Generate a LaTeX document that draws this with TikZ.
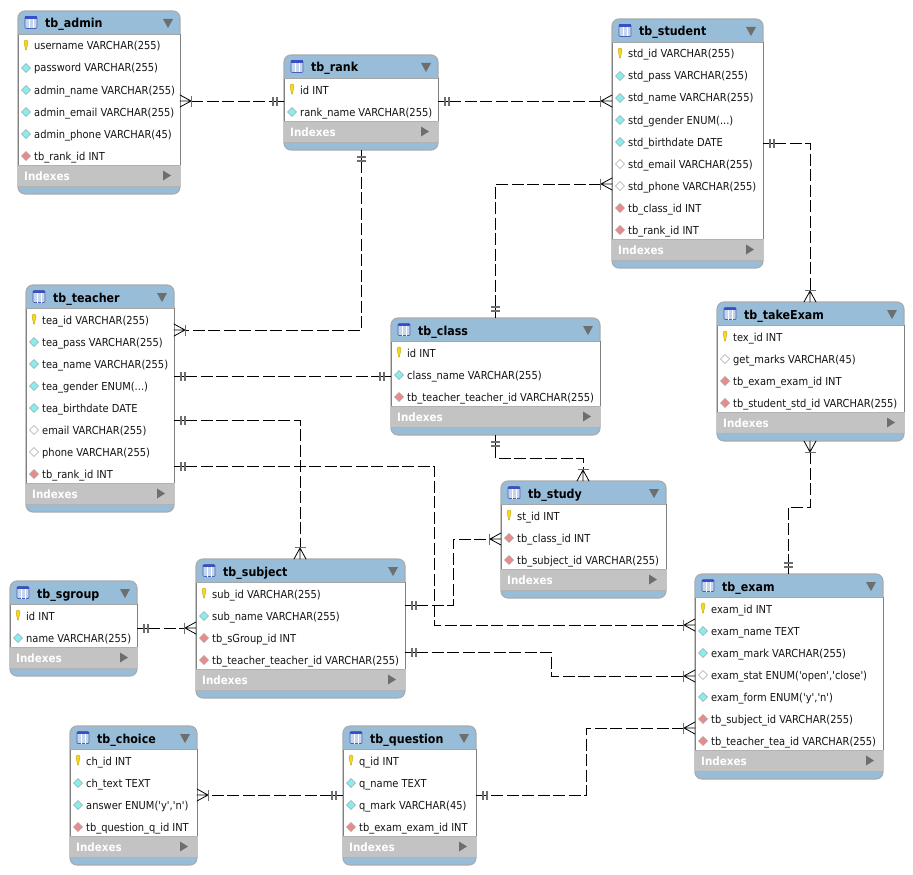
\documentclass[tikz,border=0pt]{standalone}
\usepackage{fontspec}
\usetikzlibrary{arrows.meta}
\newfontfamily\erfont{DejaVu Sans Condensed}
\definecolor{erblue}{HTML}{97BDD9}
\definecolor{erband}{HTML}{C3C3C3}
\definecolor{erframe}{HTML}{ABABAB}
\definecolor{eredge}{HTML}{808080}
\definecolor{ertri}{HTML}{6E6E6E}
\definecolor{ercyan}{HTML}{86EEF0}
\definecolor{erred}{HTML}{EC8A8A}
\definecolor{erkey}{HTML}{F8D818}
\definecolor{ericonblue}{HTML}{3A4FC4}
\definecolor{ericonfill}{HTML}{C4D5EE}
\def\erdots{...}
\pgfdeclarearrow{
  name = ERmany,
  setup code = {\pgfarrowssettipend{0pt}\pgfarrowssetlineend{-11pt}\pgfarrowssetbackend{-12.5pt}\pgfarrowssetvisualbackend{-12.5pt}},
  drawing code = {
    \pgfsetdash{}{0pt}\pgfsetlinewidth{.8pt}\pgfsetroundcap
    \pgfsetstrokecolor{black}
    \pgfpathmoveto{\pgfpoint{0pt}{6pt}}\pgfpathlineto{\pgfpoint{-11pt}{0pt}}\pgfpathlineto{\pgfpoint{0pt}{-6pt}}
    \pgfpathmoveto{\pgfpoint{-11pt}{0pt}}\pgfpathlineto{\pgfpoint{0pt}{0pt}}
    \pgfusepathqstroke
    \pgfsetbuttcap\pgfsetlinewidth{1.6pt}\pgfsetstrokecolor{ertri}
    \pgfpathmoveto{\pgfpoint{-11.5pt}{5.5pt}}\pgfpathlineto{\pgfpoint{-11.5pt}{-5.5pt}}
    \pgfusepathqstroke
  },
}
\pgfdeclarearrow{
  name = ERone,
  setup code = {\pgfarrowssettipend{0pt}\pgfarrowssetlineend{-11pt}\pgfarrowssetbackend{-12pt}\pgfarrowssetvisualbackend{-12pt}},
  drawing code = {
    \pgfsetdash{}{0pt}\pgfsetlinewidth{.8pt}\pgfsetbuttcap
    \pgfsetstrokecolor{black}
    \pgfpathmoveto{\pgfpoint{0pt}{0pt}}\pgfpathlineto{\pgfpoint{-11pt}{0pt}}
    \pgfusepathqstroke
    \pgfsetlinewidth{1.5pt}\pgfsetstrokecolor{ertri}
    \pgfpathmoveto{\pgfpoint{-7pt}{4.5pt}}\pgfpathlineto{\pgfpoint{-7pt}{-4.5pt}}
    \pgfpathmoveto{\pgfpoint{-11pt}{4.5pt}}\pgfpathlineto{\pgfpoint{-11pt}{-4.5pt}}
    \pgfusepathqstroke
  },
}
\tikzset{
  x=1pt,y=-1pt,
  tablebox/.style={draw=erframe,line width=1.1pt,fill=erblue,rounded corners=7pt,inner sep=0pt,outer sep=0pt},
  titletext/.style={anchor=base west,inner sep=0pt,font=\erfont\bfseries\fontsize{12.3}{14}\selectfont,text=black},
  rowtext/.style={anchor=base west,inner sep=0pt,font=\erfont\fontsize{11}{13}\selectfont,text=black!92},
  indextext/.style={anchor=base west,inner sep=0pt,font=\erfont\bfseries\fontsize{11.5}{13}\selectfont,text=white},
  rel/.style={draw=black,line width=.85pt,dash pattern=on 12pt off 3.5pt},
  oo/.style={rel,{ERone}-{ERone}},
  om/.style={rel,{ERone}-{ERmany}},
  mo/.style={rel,{ERmany}-{ERone}},
}
\def\iconk#1#2{%
  \fill[erkey,draw=erkey!70!black,line width=.3pt] (#1-2,#2-4) arc[start angle=180,end angle=0,x radius=2,y radius=-2] -- (#1+1,#2+1) -- (#1+.5,#2+4) -- (#1-.5,#2+4) -- (#1-1,#2+1) -- cycle;}
\def\icondiamond#1#2#3{%
  \fill[#3,draw=black!35,line width=.5pt] (#1-4.5,#2) -- (#1,#2-4.5) -- (#1+4.5,#2) -- (#1,#2+4.5) -- cycle;}
\def\iconc#1#2{\icondiamond{#1}{#2}{ercyan}}
\def\iconw#1#2{\icondiamond{#1}{#2}{white}}
\def\iconr#1#2{\icondiamond{#1}{#2}{erred}}
% #1 name, #2 title, #3 x0, #4 y0, #5 x1, #6 rows, #7 list
\newcommand\ertable[7]{%
  \pgfmathsetmacro\eryb{#4+22+22*#6+29}
  \pgfmathsetmacro\ertw{#5-#3}\pgfmathsetmacro\erth{\eryb-#4}
  \pgfmathsetmacro\ercx{(#3+#5)/2}\pgfmathsetmacro\ercy{(#4+\eryb)/2}
  \node[tablebox,minimum width=\ertw pt,minimum height=\erth pt] (#1) at (\ercx,\ercy) {};
  \pgfmathsetmacro\eryh{#4+23}\pgfmathsetmacro\eryi{#4+22+22*#6}\pgfmathsetmacro\eryj{\eryi+21}
  \fill[white] (#3,\eryh) rectangle (#5,\eryi);
  \fill[erband] (#3,\eryi) rectangle (#5,\eryj);
  \draw[eredge,line width=.8pt] (#3,\eryh) -- (#3,\eryi) (#5,\eryh) -- (#5,\eryi);
  \draw[black!35,line width=.8pt] (#3,\eryh) -- (#5,\eryh);
  \draw[black!30,line width=.8pt] (#3,\eryi) -- (#5,\eryi) (#3,\eryj) -- (#5,\eryj);
  % table icon
  \pgfmathsetmacro\eria{#3+7}\pgfmathsetmacro\erib{#3+19}\pgfmathsetmacro\eric{#4+5.5}\pgfmathsetmacro\erid{#4+17.5}\pgfmathsetmacro\erie{#4+8}
  \fill[ericonfill,draw=ericonblue!70!gray,line width=.7pt,rounded corners=1pt] (\eria,\eric) rectangle (\erib,\erid);
  \fill[ericonblue] (\eria,\eric) rectangle (\erib,\erie);
  \draw[white,line width=.6pt] (\eria+4,\erie) -- (\eria+4,\erid) (\eria+8,\erie) -- (\eria+8,\erid);
  \node[titletext] (#1-title) at (#3+27,#4+17) {#2};
  % collapse triangles
  \fill[ertri] (#5-17,#4+8) -- (#5-7,#4+8) -- (#5-12,#4+17) -- cycle;
  \pgfmathsetmacro\eryk{\eryi+10.5}
  \fill[ertri] (#5-17,\eryk-5) -- (#5-17,\eryk+5) -- (#5-9,\eryk) -- cycle;
  \node[indextext] (#1-idx) at (#3+6,\eryk+4.5) {Indexes};
  \foreach \erkind/\ertext [count=\ern] in {#7} {
    \pgfmathsetmacro\erry{#4+35+22*(\ern-1)}
    \csname icon\erkind\endcsname{#3+8}{\erry}
    \node[rowtext] (#1-r\ern) at (#3+16,\erry+4) {\ertext};
  }
}
\catcode`\_=12
\begin{document}
\begin{tikzpicture}
\fill[white] (0,0) rectangle (913,875);
\useasboundingbox (0,0) rectangle (913,875);
\ertable{admin}{tb_admin}{18}{11}{180}{6}{k/username VARCHAR(255),c/password VARCHAR(255),c/admin_name VARCHAR(255),c/admin_email VARCHAR(255),c/admin_phone VARCHAR(45),r/tb_rank_id INT}
\ertable{rank}{tb_rank}{284}{55}{438}{2}{k/id INT,c/rank_name VARCHAR(255)}
\ertable{student}{tb_student}{612}{19}{763}{9}{k/std_id VARCHAR(255),c/std_pass VARCHAR(255),c/std_name VARCHAR(255),c/std_gender ENUM(\erdots),c/std_birthdate DATE,w/std_email VARCHAR(255),w/std_phone VARCHAR(255),r/tb_class_id INT,r/tb_rank_id INT}
\ertable{teacher}{tb_teacher}{26}{285}{174}{8}{k/tea_id VARCHAR(255),c/tea_pass VARCHAR(255),c/tea_name VARCHAR(255),c/tea_gender ENUM(\erdots),c/tea_birthdate DATE,w/email VARCHAR(255),w/phone VARCHAR(255),r/tb_rank_id INT}
\ertable{class}{tb_class}{391}{318}{600}{3}{k/id INT,c/class_name VARCHAR(255),r/tb_teacher_teacher_id VARCHAR(255)}
\ertable{take}{tb_takeExam}{717}{302}{904}{4}{k/tex_id INT,w/get_marks VARCHAR(45),r/tb_exam_exam_id INT,r/tb_student_std_id VARCHAR(255)}
\ertable{study}{tb_study}{501}{481}{666}{3}{k/st_id INT,r/tb_class_id INT,r/tb_subject_id VARCHAR(255)}
\ertable{sgroup}{tb_sgroup}{10}{581}{137}{2}{k/id INT,c/name VARCHAR(255)}
\ertable{subject}{tb_subject}{196}{559}{405}{4}{k/sub_id VARCHAR(255),c/sub_name VARCHAR(255),r/tb_sGroup_id INT,r/tb_teacher_teacher_id VARCHAR(255)}
\ertable{exam}{tb_exam}{695}{574}{883}{7}{k/exam_id INT,c/exam_name TEXT,c/exam_mark VARCHAR(255),w/{exam_stat ENUM('open','close')},c/{exam_form ENUM('y','n')},r/tb_subject_id VARCHAR(255),r/tb_teacher_tea_id VARCHAR(255)}
\ertable{choice}{tb_choice}{70}{726}{197}{4}{k/ch_id INT,c/ch_text TEXT,c/{answer ENUM('y','n')},r/tb_question_q_id INT}
\ertable{question}{tb_question}{343}{726}{476}{4}{k/q_id INT,c/q_name TEXT,c/q_mark VARCHAR(45),r/tb_exam_exam_id INT}
% connectors
\draw[mo] (admin.east |- 0,101) -- (rank.west |- 0,101);
\draw[om] (rank.east |- 0,101) -- (student.west |- 0,101);
\draw[om] (361,0 |- rank.south) -- (361,330) -- (teacher.east |- 0,330);
\draw[mo] (student.west |- 0,184) -- (495,184) -- (495,0 |- class.north);
\draw[om] (student.east |- 0,143) -- (810,143) -- (810,0 |- take.north);
\draw[oo] (teacher.east |- 0,376) -- (class.west |- 0,376);
\draw[om] (teacher.east |- 0,420) -- (300,420) -- (300,0 |- subject.north);
\draw[om] (teacher.east |- 0,466) -- (434,466) -- (434,625) -- (exam.west |- 0,625);
\draw[om] (495,0 |- class.south) -- (495,458) -- (583,458) -- (583,0 |- study.north);
\draw[om] (subject.east |- 0,605) -- (453,605) -- (453,539) -- (study.west |- 0,539);
\draw[om] (sgroup.east |- 0,628) -- (subject.west |- 0,628);
\draw[om] (subject.east |- 0,652) -- (551,652) -- (551,676) -- (exam.west |- 0,676);
\draw[mo] (810,0 |- take.south) -- (810,507) -- (788,507) -- (788,0 |- exam.north);
\draw[mo] (exam.west |- 0,728) -- (586,728) -- (586,795) -- (question.east |- 0,795);
\draw[om] (question.west |- 0,795) -- (choice.east |- 0,795);
\end{tikzpicture}
\end{document}
